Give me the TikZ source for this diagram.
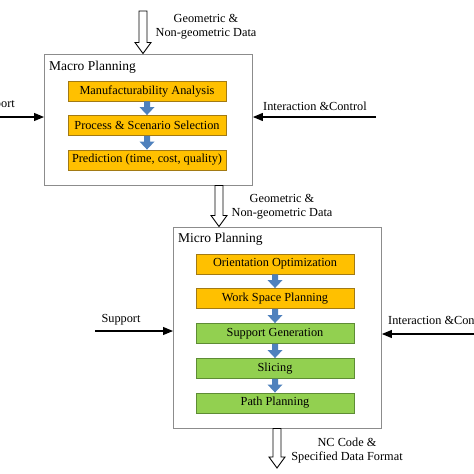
\documentclass[tikz,border=0pt]{standalone}
\usepackage{fontspec}
\setmainfont{Liberation Serif}
\usetikzlibrary{arrows.meta,calc}
\definecolor{orfill}{HTML}{FFC000}
\definecolor{ordraw}{HTML}{A27A14}
\definecolor{grfill}{HTML}{92D050}
\definecolor{grdraw}{HTML}{5E8C35}
\definecolor{bluearr}{HTML}{4F81BD}
\definecolor{frame}{HTML}{8C8C8C}
\newcommand\hollowdown[2]{%
  \draw[hollowarr] ($(#1)+(-4,0)$) -- ($(#2)+(-4,-11)$) -- ($(#2)+(-8,-11)$) -- (#2)
    -- ($(#2)+(8,-11)$) -- ($(#2)+(4,-11)$) -- ($(#1)+(4,0)$) -- cycle;}
\newcommand\bluedown[2]{%
  \fill[bluearr] ($(#1)+(-3,0)$) -- ($(#2)+(-3,-8)$) -- ($(#2)+(-7.5,-8)$) -- (#2)
    -- ($(#2)+(7.5,-8)$) -- ($(#2)+(3,-8)$) -- ($(#1)+(3,0)$) -- cycle;}
\tikzset{
  lbl/.style={font=\fontsize{12.3}{14}\selectfont, inner sep=0pt, align=center},
  title/.style={font=\fontsize{13.5}{15}\selectfont, inner sep=0pt},
  frm/.style={draw=frame, line width=0.9pt, fill=white},
  orbox/.style={draw=ordraw, fill=orfill, line width=0.9pt, minimum width=158pt, minimum height=20pt, inner sep=0pt, font=\fontsize{12.3}{14}\selectfont},
  grbox/.style={draw=grdraw, fill=grfill, line width=0.9pt, minimum width=158pt, minimum height=20pt, inner sep=0pt, font=\fontsize{12.3}{14}\selectfont},
  hollowarr/.style={draw=black, fill=white, line width=0.9pt, line join=miter},
  thinarr/.style={line width=1.1pt, -{Triangle[length=10pt,width=8pt]}}
}
\begin{document}
\begin{tikzpicture}[x=1pt,y=-1pt]
\useasboundingbox[fill=white] (0,0) rectangle (474,474);
% Macro planning
\node[frm, minimum width=208pt, minimum height=131pt, anchor=north west, inner sep=0pt] (macro) at (44,54) {};
\node[title, anchor=base west] (macrot) at (49,70.5) {Macro Planning};
\node[orbox] (m1) at (147,91) {Manufacturability Analysis};
\node[orbox] (m2) at (147,125.5) {Process \& Scenario Selection};
\node[orbox] (m3) at (147,160) {Prediction (time, cost, quality)};
\bluedown{m1.south}{m2.north}
\bluedown{m2.south}{m3.north}
% top input
\coordinate (topin) at (143,11);
\coordinate (topend) at (143,53.5);
\hollowdown{topin}{topend}
\node[lbl] (geo1) at (206,27) {Geometric \&\\Non-geometric Data};
% left/right macro
\coordinate (sup1) at (-10,117);
\draw[thinarr] (sup1) -- (macro.west |- sup1);
\node[lbl, anchor=base east] (sup1t) at (15,107) {Support};
\coordinate (int1) at (376,117);
\draw[thinarr] (int1) -- (macro.east |- int1);
\node[lbl, anchor=base west] (int1t) at (263,110) {Interaction \&Control};
% Micro planning
\node[frm, minimum width=208pt, minimum height=201pt, anchor=north west, inner sep=0pt] (micro) at (173,227) {};
\node[title, anchor=base west] (microt) at (178,242.5) {Micro Planning};
\node[orbox] (p1) at (275,264) {Orientation Optimization};
\node[orbox] (p2) at (275,298.5) {Work Space Planning};
\node[grbox] (p3) at (275,333.5) {Support Generation};
\node[grbox] (p4) at (275,368.5) {Slicing};
\node[grbox] (p5) at (275,403) {Path Planning};
\bluedown{p1.south}{p2.north}
\bluedown{p2.south}{p3.north}
\bluedown{p3.south}{p4.north}
\bluedown{p4.south}{p5.north}
% macro -> micro
\coordinate (midin) at (219,185.5);
\coordinate (midend) at (219,226.5);
\hollowdown{midin}{midend}
\node[lbl] (geo2) at (282,207) {Geometric \&\\Non-geometric Data};
% micro side arrows
\coordinate (sup2) at (95,331);
\draw[thinarr] (sup2) -- (micro.west |- sup2);
\node[lbl, anchor=base] (sup2t) at (121,322) {Support};
\coordinate (int2) at (480,334);
\draw[thinarr] (int2) -- (micro.east |- int2);
\node[lbl, anchor=base west] (int2t) at (388,324) {Interaction \&Control};
% output
\coordinate (outin) at (277,428.5);
\coordinate (outend) at (277,468);
\hollowdown{outin}{outend}
\node[lbl] (nc) at (347,451) {NC Code \&\\Specified Data Format};
\end{tikzpicture}
\end{document}
